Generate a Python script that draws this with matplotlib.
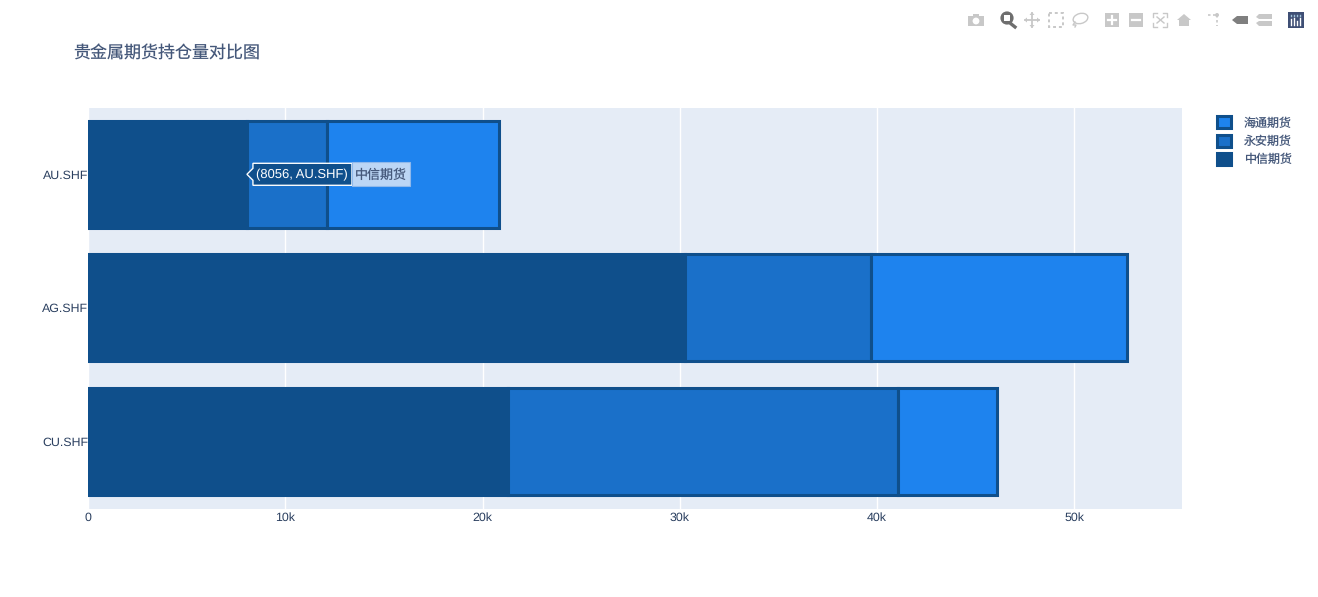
import matplotlib
matplotlib.use("Agg")
import matplotlib.pyplot as plt
from matplotlib.patches import Rectangle, Circle, Polygon, Ellipse

plt.rcParams['font.family'] = ['Liberation Sans', 'Noto Sans CJK SC', 'DejaVu Sans']
plt.rcParams['text.hinting'] = 'none'

# datos
contracts = ['CU.SHF', 'AG.SHF', 'AU.SHF']
citic = [21270, 30260, 8056]
yongan = [19810, 9420, 4060]
haitong = [4970, 12970, 8730]
x_ticks = [0, 10000, 20000, 30000, 40000, 50000]
x_labels = ['0', '10k', '20k', '30k', '40k', '50k']

W, H = 1318, 597
TEXT = '#2a3f5f'
TEXT_CJK = '#45587a'
EDGE = '#0f4f8b'


def pixel_axes(fig):
    # capa en pixeles para la barra de herramientas y el hover de plotly
    ov = fig.add_axes([0, 0, 1, 1], zorder=5)
    ov.set_xlim(0, W)
    ov.set_ylim(H, 0)
    ov.axis('off')
    return ov


def toolbar(ov):
    c = '#c8c8c8'
    # camara
    ov.add_patch(Rectangle((968, 16), 16, 10, fc=c, ec='none'))
    ov.add_patch(Rectangle((973, 14), 6, 3, fc=c, ec='none'))
    ov.add_patch(Circle((976, 21), 3.4, fc='white', ec='none'))
    # zoom (activo)
    ov.plot([1010, 1015], [23, 27], color='#6e6e6e', lw=2.4)
    ov.add_patch(Circle((1007, 18), 6.6, fc='#6e6e6e', ec='none'))
    ov.add_patch(Rectangle((1004, 15), 6, 6, fc='white', ec='none'))
    # mover
    ov.plot([1025, 1039], [20, 20], color=c, lw=1.3)
    ov.plot([1032, 1032], [13, 27], color=c, lw=1.3)
    ov.add_patch(Polygon([[1024, 20], [1027, 17.5], [1027, 22.5]], fc=c, ec='none'))
    ov.add_patch(Polygon([[1040, 20], [1037, 17.5], [1037, 22.5]], fc=c, ec='none'))
    ov.add_patch(Polygon([[1032, 12], [1029.5, 15], [1034.5, 15]], fc=c, ec='none'))
    ov.add_patch(Polygon([[1032, 28], [1029.5, 25], [1034.5, 25]], fc=c, ec='none'))
    # caja y lazo
    ov.add_patch(Rectangle((1049, 13), 14, 14, fc='none', ec=c, lw=1.4, ls=(0, (1.5, 1.5))))
    ov.add_patch(Ellipse((1080.5, 18.5), 15, 10, angle=-15, fc='none', ec=c, lw=1))
    ov.plot([1075, 1073, 1076, 1075], [22, 25, 25, 27], color=c, lw=1)
    # mas, menos
    for x0 in (1105, 1129):
        ov.add_patch(Rectangle((x0, 13), 14, 14, fc=c, ec='none'))
    ov.plot([1108, 1116], [20, 20], color='white', lw=1.6)
    ov.plot([1112, 1112], [16, 24], color='white', lw=1.6)
    ov.plot([1132, 1140], [20, 20], color='white', lw=1.6)
    # autoescala: solo las esquinas
    for cx, sx in ((1153, 1), (1167, -1)):
        for cy, sy in ((13, 1), (27, -1)):
            ov.plot([cx + 4 * sx, cx, cx], [cy, cy, cy + 4 * sy], color=c, lw=1)
    ov.plot([1157, 1164], [17, 23], color=c, lw=1)
    ov.plot([1157, 1164], [23, 17], color=c, lw=1)
    # casa
    ov.add_patch(Polygon([[1177, 20], [1184, 14], [1191, 20], [1189, 20], [1189, 26],
                          [1179, 26], [1179, 20]], fc=c, ec='none'))
    # lineas de guia
    ov.plot([1208, 1217], [15, 15], color=c, lw=1.2, ls=(0, (1.5, 1.5)))
    ov.plot([1217, 1217], [15, 26], color=c, lw=1.2, ls=(0, (1.5, 1.5)))
    ov.add_patch(Circle((1217, 15), 2, fc=c, ec='none'))
    # hover
    ov.add_patch(Polygon([[1232, 20], [1237, 16], [1248, 16], [1248, 24], [1237, 24]],
                         fc='#7f7f7f', ec='none'))
    ov.add_patch(Polygon([[1256, 17], [1259, 14], [1272, 14], [1272, 19], [1259, 19]],
                         fc=c, ec='none'))
    ov.add_patch(Polygon([[1256, 23], [1259, 21], [1272, 21], [1272, 26], [1259, 26]],
                         fc=c, ec='none'))
    # logo
    ov.add_patch(Rectangle((1288, 12), 16, 16, fc='#3f4f75', ec='none'))
    for x0, top in zip((1291, 1294, 1297, 1300), (19, 18, 21, 18)):
        ov.plot([x0, x0], [top, 25], color='white', lw=1)
        ov.plot([x0, x0], [15, 16], color='#9fc0d8', lw=1)


def hover(ov, ax):
    # etiqueta de hover sobre la punta de la primera barra de AU
    px, py = ax.transData.transform((citic[2], 2))
    tx = px
    ty = H - py
    ov.add_patch(Polygon([[tx, ty], [tx + 6, ty - 6], [tx + 6, ty - 11], [tx + 105, ty - 11],
                          [tx + 105, ty + 11], [tx + 6, ty + 11], [tx + 6, ty + 6]],
                         fc=EDGE, ec='white', lw=1, alpha=0.98))
    ov.add_patch(Rectangle((tx + 105, ty - 12), 58, 24, fc='#bcd6f5', ec='#8fb9ec', lw=0.8))
    ov.text(tx + 9, ty + 0.5, '(8056, AU.SHF)', fontsize=9.36, color='white', va='center', ha='left')
    ov.text(tx + 108, ty + 0.5, '中信期货', fontsize=9.36, color=TEXT_CJK, va='center', ha='left')


def main():
    fig = plt.figure(figsize=(W / 100, H / 100), dpi=100, facecolor='white')
    ax = fig.add_axes([88 / W, 1 - 509 / H, (1182 - 88) / W, (509 - 108) / H])
    ax.set_facecolor('#e5ecf6')

    left2 = [a for a in citic]
    left3 = [a + b for a, b in zip(citic, yongan)]
    b1 = ax.barh(contracts, citic, height=0.8, color='#0f4f8b', edgecolor=EDGE, linewidth=2.2, label='中信期货', zorder=3)
    b2 = ax.barh(contracts, yongan, left=left2, height=0.8, color='#1a70c9', edgecolor=EDGE, linewidth=2.2, label='永安期货', zorder=3)
    b3 = ax.barh(contracts, haitong, left=left3, height=0.8, color='#1e83ee', edgecolor=EDGE, linewidth=2.2, label='海通期货', zorder=3)

    ax.set_xlim(0, 55450)
    ax.set_ylim(-0.504, 2.496)
    ax.set_xticks(x_ticks, x_labels)
    ax.grid(axis='x', color='white', linewidth=1, zorder=1)
    ax.set_axisbelow(True)
    ax.tick_params(length=0, labelsize=8.9, labelcolor=TEXT)
    ax.tick_params(axis='x', pad=2)
    ax.tick_params(axis='y', pad=0)
    for s in ax.spines.values():
        s.set_visible(False)

    fig.text(73 / W, 1 - 53.5 / H, '贵金属期货持仓量对比图', fontsize=12.24, color=TEXT_CJK, va='center')

    fig.legend(handles=[b3, b2, b1], loc='upper left', bbox_to_anchor=(1217 / W, 1 - 116.5 / H),
               frameon=False, fontsize=8.64, labelcolor=TEXT_CJK, handlelength=1.17, handleheight=1.12,
               handletextpad=1.05, labelspacing=0.5, borderpad=0, borderaxespad=0)

    ov = pixel_axes(fig)
    toolbar(ov)
    hover(ov, ax)
    fig.savefig('out.png', dpi=100, facecolor='white')


if __name__ == "__main__":
    main()
